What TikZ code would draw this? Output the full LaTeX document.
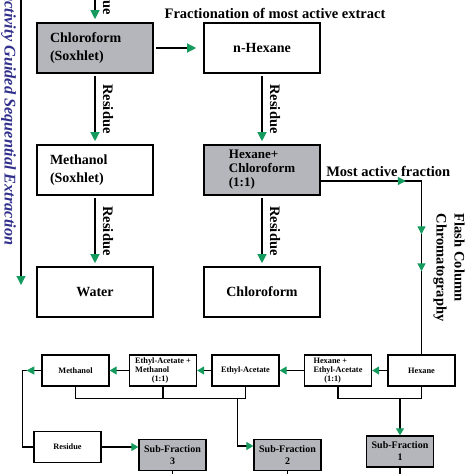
\documentclass[tikz,border=0pt]{standalone}
\usepackage{fontspec}
\setmainfont{Liberation Serif}
\usetikzlibrary{positioning, arrows.meta, decorations.markings}

\definecolor{cajagris}{RGB}{180,182,187}
\definecolor{verde}{RGB}{22,155,95}
\definecolor{azul}{RGB}{48,48,140}

\tikzset{
  caja/.style={draw, line width=1.6pt, minimum width=116pt, minimum height=50pt, inner sep=2pt, font=\fontsize{14}{18}\selectfont\bfseries},
  cajita/.style={draw, line width=1.3pt, minimum width=67pt, minimum height=31pt, inner sep=1pt, font=\fontsize{8.3}{9}\selectfont\bfseries},
  subf/.style={cajita, fill=cajagris, align=center, font=\fontsize{10}{12}\selectfont\bfseries},
  flujo/.style={line width=1.2pt, -{Triangle[length=9pt, width=9pt, color=verde]}, shorten <=2pt, shorten >=3pt},
  flujito/.style={line width=1.1pt, -{Triangle[length=7pt, width=8pt, color=verde]}},
  linea/.style={line width=1.1pt},
  flecha/.style={postaction={decorate, decoration={markings, mark=at position #1 with {\arrow{Triangle[length=8pt, width=8pt, color=verde]}}}}},
  etiq/.style={font=\fontsize{14.5}{18}\selectfont\bfseries},
  lateral/.style={etiq, rotate=-90, anchor=south, inner sep=0pt, outer sep=8pt},
}

\begin{document}
\begin{tikzpicture}[x=1pt, y=-1pt, node distance=122pt, on grid]
  \useasboundingbox (0,0) rectangle (474,474);

  % Extraccion secuencial
  \node[caja, fill=cajagris, text width=90pt, align=left] (cloro) at (95,48) {Chloroform\\(Soxhlet)};
  \node[caja, text width=90pt, align=left] (metanol) [below=of cloro] {Methanol\\(Soxhlet)};
  \node[caja] (agua) [below=of metanol] {Water};

  % Fraccionamiento del extracto
  \node[etiq] (titulo) at (275,13) {Fractionation of most active extract};
  \node[caja] (nhex) [right=167pt of cloro] {n-Hexane};
  \node[caja, fill=cajagris, align=left, font=\fontsize{13}{14}\selectfont\bfseries] (hexcl) [below=of nhex] {Hexane+\\Chloroform\\(1:1)};
  \node[caja] (clf) [below=of hexcl] {Chloroform};

  % Columna flash
  \node[cajita] (hexane) at (421.5,370.5) {Hexane};
  \node[cajita, align=left] (hexae) [left=83.5pt of hexane] {Hexane +\\Ethyl-Acetate\\\hspace*{1.3em}(1:1)};
  \node[cajita] (ae) [left=92.5pt of hexae] {Ethyl-Acetate};
  \node[cajita, align=left] (aemet) [left=82.5pt of ae] {Ethyl-Acetate +\\Methanol\\\hspace*{2em}(1:1)};
  \node[cajita] (metb) [left=87.5pt of aemet] {Methanol};
  \node[cajita] (residuo) at (67.5,447) {Residue};
  \node[subf] (sf3) at (172.5,455) {Sub-Fraction\\3};
  \node[subf] (sf2) at (287.5,455) {Sub-Fraction\\2};
  \node[subf] (sf1) at (400,451.5) {Sub-Fraction\\1};

  % Flecha lateral
  \coordinate (izqarriba) at (21,-10);
  \coordinate (izqabajo) at (21,285);
  \draw[flujo, shorten >=0pt] (izqarriba) -- (izqabajo);
  \node[etiq, text=azul, font=\fontsize{16.3}{18}\selectfont\bfseries\itshape, rotate=-90, anchor=east] (guia) at (8.5,249) {Bioactivity Guided Sequential Extraction};

  % Transiciones de la extraccion
  \coordinate (entrada) at ([yshift=45pt]cloro.north);
  \path
    (entrada) edge[flujo] node[lateral, pos=0.3] {Residue} (cloro)
    (cloro) edge[flujo, shorten >=7pt] (nhex)
    (cloro) edge[flujo] node[lateral] {Residue} (metanol)
    (metanol) edge[flujo] node[lateral] {Residue} (agua)
    (nhex) edge[flujo] node[lateral] {Residue} (hexcl)
    (hexcl) edge[flujo] node[lateral] {Residue} (clf);

  % Fraccion mas activa
  \coordinate (salida) at ([yshift=-11pt]hexcl.east);
  \coordinate (esquina) at (hexane.north |- salida);
  \draw[linea, flecha=85pt, flecha=154pt, flecha=191pt] (salida)
    -- node[etiq, above, pos=0.67] {Most active fraction} (esquina)
    -- node[lateral, align=left, outer sep=12pt] {Flash Column\\Chromatography} (hexane);

  % Sub-fracciones
  \path
    (hexane) edge[flujito] (hexae)
    (hexae) edge[flujito] (ae)
    (ae) edge[flujito] (aemet)
    (aemet) edge[flujito] (metb);
  \coordinate (codo) at ([xshift=-19pt]metb.west);
  \draw[linea, flecha=15pt] (metb.west) -- (codo) |- (residuo.west);
  \draw[flujito] (residuo.east) -- (residuo.east -| sf3.west);

  \coordinate (busizq) at ([yshift=-12pt]metb.south);
  \draw[linea] (metb.south) -- (busizq) -| (ae.south);
  \draw[linea] (aemet.south) -- (aemet.south |- busizq);
  \coordinate (bajada) at ([xshift=-8pt]ae.south |- busizq);
  \draw[flujito] (bajada) |- ([yshift=9pt]sf2.west);

  \coordinate (busder) at ([yshift=-12pt]hexane.south);
  \draw[linea] (hexae.south) -- (hexae.south |- busder) -- (busder) -- (hexane.south);
  \draw[flujito] (sf1.north |- busder) -- (sf1.north);

  \draw[linea] (sf3.south) -- ++(0,10);
  \draw[linea] (sf2.south) -- ++(0,10);
  \draw[linea] (sf1.south) -- ++(0,10);

\end{tikzpicture}
\end{document}
